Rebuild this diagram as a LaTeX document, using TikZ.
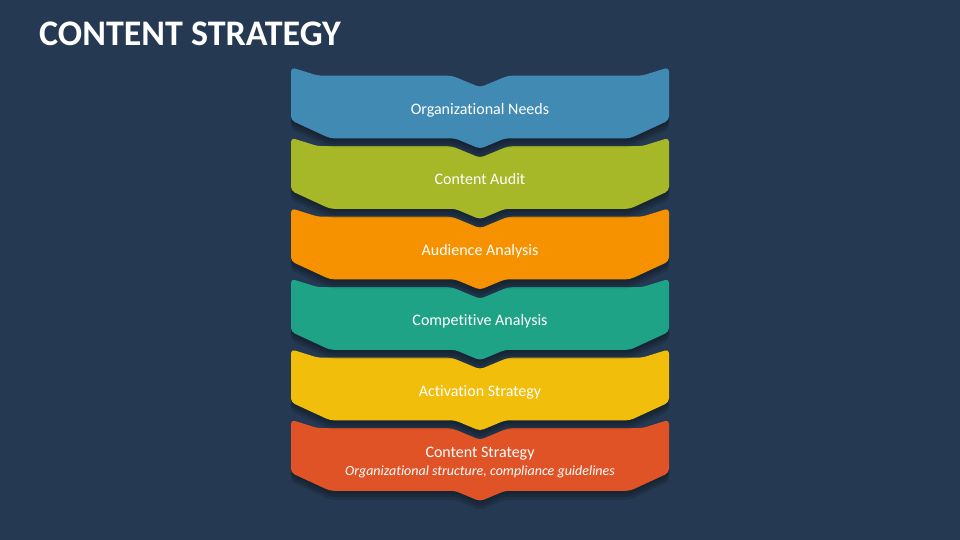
\documentclass[tikz,border=0pt]{standalone}
\usepackage{fontspec}
\setmainfont{Carlito}[Ligatures=NoCommon]
\definecolor{bgcol}{RGB}{37,58,82}
\definecolor{cblue}{RGB}{65,138,179}
\definecolor{cgreen}{RGB}{166,183,39}
\definecolor{corange}{RGB}{246,146,0}
\definecolor{cteal}{RGB}{31,163,135}
\definecolor{cyellow}{RGB}{241,190,11}
\definecolor{cred}{RGB}{223,83,39}
\newcommand\bandpath{(291,53) -- (291,0) -- (318,8.4) -- (452,8.4) -- (480,20) -- (508,8.4) -- (642,8.4) -- (669,0) -- (669,53) -- (630,71) -- (505,71) -- (480,81.5) -- (455,71) -- (330,71) -- cycle}
\tikzset{
  bandlabel/.style={text=white, font=\fontsize{16}{18}\selectfont, anchor=base, inner sep=0pt},
  sublabel/.style={text=white, font=\fontsize{14}{16}\selectfont\itshape, anchor=base, inner sep=0pt},
  bandshape/.style={rounded corners=4pt},
}
\newcommand\drawband[2]{%
  \begin{scope}[shift={(0,#1)}]
    \foreach \s in {3,6,9}{\fill[black, opacity=0.13, rounded corners=4pt, shift={(0,\s)}] \bandpath;}
    \fill[#2, bandshape] \bandpath;
  \end{scope}}
\begin{document}
\begin{tikzpicture}[x=1pt, y=-1pt]
\fill[bgcol] (0,0) rectangle (960,540);
\useasboundingbox (0,0) rectangle (960,540);
\node[anchor=base west, inner sep=0pt, text=white, font=\fontsize{36}{42}\selectfont\bfseries] (title) at (39,45.5) {CONTENT STRATEGY};
\drawband{419.8}{cred}
\drawband{349.3}{cyellow}
\drawband{278.8}{cteal}
\drawband{208.3}{corange}
\drawband{137.8}{cgreen}
\drawband{67.3}{cblue}
\node[bandlabel] (l1) at (480,114.3) {Organizational Needs};
\node[bandlabel] (l2) at (480,184.8) {Content Audit};
\node[bandlabel] (l3) at (480,255.3) {Audience Analysis};
\node[bandlabel] (l4) at (480,325.8) {Competitive Analysis};
\node[bandlabel] (l5) at (480,396.3) {Activation Strategy};
\node[bandlabel] (l6) at (480,457.7) {Content Strategy};
\node[sublabel] (l6s) at (480,475) {Organizational structure, compliance guidelines};
\end{tikzpicture}
\end{document}
